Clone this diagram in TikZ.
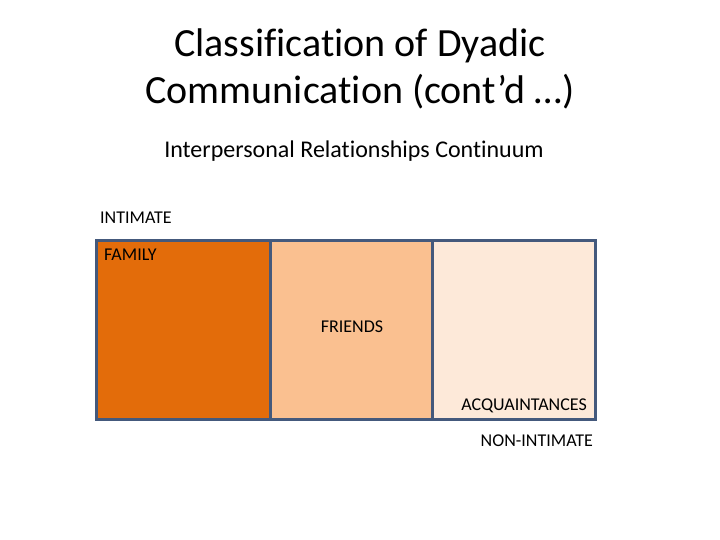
\documentclass[tikz,border=0pt]{standalone}
\usepackage{fontspec}
\setmainfont{Carlito}[Ligatures=NoCommon]
\definecolor{famfill}{HTML}{E36C0A}
\definecolor{frifill}{HTML}{FAC090}
\definecolor{acqfill}{HTML}{FDE9D9}
\definecolor{edge}{HTML}{44597C}
\begin{document}
\begin{tikzpicture}[x=1pt, y=-1pt, inner sep=0pt,
    label/.style={font=\fontsize{18}{20}\selectfont}]
            \useasboundingbox (0,0) rectangle (720,540);

            \node[align=center, font=\fontsize{40}{47}\selectfont, anchor=base] (title) at (360,104) {Classification of Dyadic\\Communication (cont'd \ldots)};
            \node[font=\fontsize{24}{28}\selectfont, anchor=base] (sub) at (354,158) {Interpersonal Relationships Continuum};

            \filldraw[famfill, draw=edge, line width=3pt] (96,240) rectangle (270,419);
            \filldraw[frifill, draw=edge, line width=3pt] (270,240) rectangle (432,419);
            \filldraw[acqfill, draw=edge, line width=3pt] (432,240) rectangle (595,419);
            \draw[edge, line width=3pt] (96,240) rectangle (595,419);

            \node[label, anchor=base west] (intimate) at (100,224) {INTIMATE};
            \node[label, anchor=base west] (fam) at (104,260) {FAMILY};
            \node[label, anchor=base] (fri) at (352,332) {FRIENDS};
            \node[label, anchor=base east] (acq) at (587,410) {ACQUAINTANCES};
            \node[label, anchor=base east] (nonint) at (593,446) {NON-INTIMATE};
        \end{tikzpicture}
\end{document}
